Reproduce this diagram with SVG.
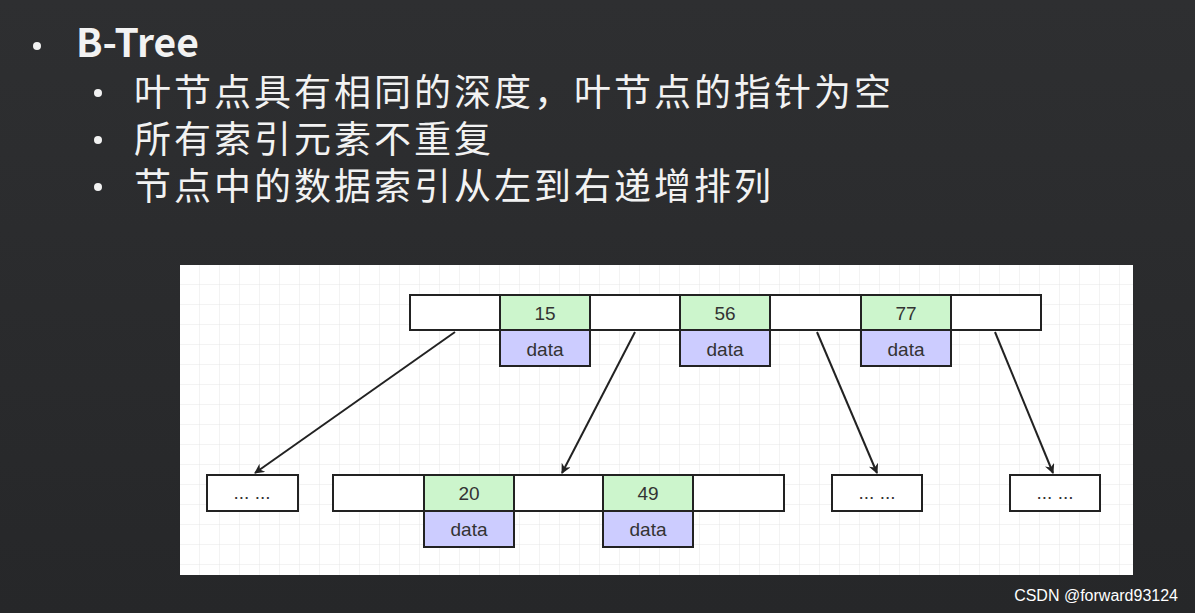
<svg xmlns="http://www.w3.org/2000/svg" width="1195" height="613" viewBox="0 0 1195 613">
<defs>
<pattern id="grid" width="20" height="20" patternUnits="userSpaceOnUse" x="180" y="265">
<path d="M20 0V20H0" fill="none" stroke="#e6e6e6" stroke-width="1"/>
</pattern>
<marker id="ah" viewBox="0 0 10 10" refX="9" refY="5" markerWidth="10" markerHeight="10" orient="auto" markerUnits="userSpaceOnUse">
<path d="M0 0L10 5L0 10L3 5Z" fill="#222"/>
</marker>
<linearGradient id="bg" x1="0" y1="0" x2="0" y2="1"><stop offset="0" stop-color="#2e2f31"/><stop offset="1" stop-color="#262729"/></linearGradient>
</defs>
<style>
.t{font-family:"Noto Sans CJK SC","Noto Sans",sans-serif;fill:#f2f2f2}
.z{font-size:37px;letter-spacing:3px}
.b{fill:#fff;stroke:#222;stroke-width:2}
.g{fill:#ccf5cc;stroke:#222;stroke-width:2}
.p{fill:#ccccff;stroke:#222;stroke-width:2}
.l{font-family:"Liberation Sans",Arial,sans-serif;font-size:19px;fill:#333;text-anchor:middle}
.c{stroke:#222;stroke-width:2;fill:none;marker-end:url(#ah)}
</style>
<rect width="1195" height="613" fill="url(#bg)"/>
<g id="text">
<circle cx="37" cy="46" r="4" fill="#f2f2f2"/>
<text class="t" x="76" y="57" font-size="39" font-weight="bold" font-family="Noto Sans,sans-serif">B-Tree</text>
<circle cx="98" cy="93" r="4" fill="#f2f2f2"/>
<text class="t z" x="134" y="106">叶节点具有相同的深度，叶节点的指针为空</text>
<circle cx="98" cy="140" r="4" fill="#f2f2f2"/>
<text class="t z" x="134" y="153">所有索引元素不重复</text>
<circle cx="98" cy="187" r="4" fill="#f2f2f2"/>
<text class="t z" x="134" y="200">节点中的数据索引从左到右递增排列</text>
</g>
<rect x="180" y="265" width="953" height="310" fill="#fff"/>
<rect x="180" y="265" width="953" height="310" fill="url(#grid)"/>
<g id="root">
<rect class="b" x="410" y="295" width="631" height="35"/>
<rect class="g" x="500" y="295" width="90" height="35"/><text class="l" x="545" y="320">15</text>
<rect class="p" x="500" y="330" width="90" height="36"/><text class="l" x="545" y="356">data</text>
<rect class="g" x="680" y="295" width="90" height="35"/><text class="l" x="725" y="320">56</text>
<rect class="p" x="680" y="330" width="90" height="36"/><text class="l" x="725" y="356">data</text>
<rect class="g" x="861" y="295" width="90" height="35"/><text class="l" x="906" y="320">77</text>
<rect class="p" x="861" y="330" width="90" height="36"/><text class="l" x="906" y="356">data</text>
</g>
<g id="leaf1"><rect class="b" x="207" y="475" width="91" height="36"/><text class="l" x="252" y="499" font-size="15">... ...</text></g>
<g id="leaf2">
<rect class="b" x="333" y="475" width="451" height="36"/>
<rect class="g" x="424" y="475" width="90" height="36"/><text class="l" x="469" y="500">20</text>
<rect class="p" x="424" y="511" width="90" height="36"/><text class="l" x="469" y="536">data</text>
<rect class="g" x="603" y="475" width="90" height="36"/><text class="l" x="648" y="500">49</text>
<rect class="p" x="603" y="511" width="90" height="36"/><text class="l" x="648" y="536">data</text>
</g>
<g id="leaf3"><rect class="b" x="832" y="475" width="90" height="36"/><text class="l" x="877" y="499" font-size="15">... ...</text></g>
<g id="leaf4"><rect class="b" x="1010" y="475" width="90" height="36"/><text class="l" x="1055" y="499" font-size="15">... ...</text></g>
<g id="connectors">
<line class="c" x1="455" y1="332" x2="255" y2="473"/>
<line class="c" x1="635" y1="332" x2="562" y2="473"/>
<line class="c" x1="817" y1="332" x2="877" y2="473"/>
<line class="c" x1="995" y1="332" x2="1053" y2="473"/>
</g>
<text x="1178" y="601" font-family="Liberation Sans,Arial,sans-serif" font-size="16" fill="#fff" text-anchor="end">CSDN @forward93124</text>
</svg>
